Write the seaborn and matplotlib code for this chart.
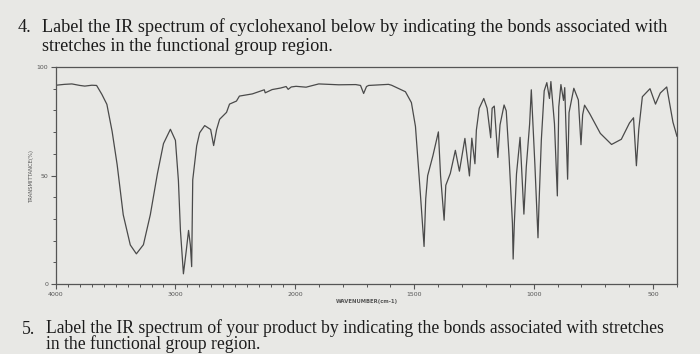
import numpy as np
import pandas as pd
import matplotlib
matplotlib.use("Agg")
import matplotlib.pyplot as plt
import seaborn as sns
from matplotlib.ticker import FixedLocator, NullFormatter

# ---- data ----
wavenumber = [
    4000, 3930, 3867, 3800, 3759, 3700, 3660, 3616, 3574, 3530, 3488, 3437,
    3378, 3327, 3268, 3210, 3151, 3100, 3042, 3000, 2975, 2958, 2933, 2910,
    2890, 2875, 2864, 2855, 2822, 2797, 2755, 2705, 2680, 2655, 2630, 2572,
    2547, 2489, 2464, 2356, 2256, 2248, 2190, 2120, 2073, 2056, 2030, 1995,
    1953, 1900, 1816, 1745, 1725, 1712, 1700, 1691, 1608, 1595, 1537, 1512,
    1495, 1485, 1475, 1459, 1452, 1444, 1422, 1399, 1390, 1375, 1368, 1349,
    1328, 1311, 1288, 1269, 1259, 1246, 1240, 1228, 1209, 1195, 1180, 1174,
    1165, 1150, 1141, 1124, 1115, 1103, 1089, 1086, 1081, 1072, 1057, 1041,
    1031, 1017, 1010, 995, 982, 978, 968, 956, 945, 934, 928, 913, 901, 895,
    886, 875, 870, 858, 852, 832, 813, 802, 795, 787, 765, 721, 674, 633,
    599, 582, 570, 560, 545, 513, 490, 470, 443, 417, 400,
]
transmittance = [
    91.6, 92.0, 92.2, 91.5, 91.2, 91.6, 91.5, 87.4, 82.8, 70.3, 55.0, 31.9,
    18.0, 13.9, 18.1, 32.0, 50.8, 64.7, 71.3, 66.2, 47.7, 24.6, 4.7, 15.0,
    24.7, 18.0, 8.0, 48.0, 63.7, 69.7, 73.0, 71.2, 63.8, 71.2, 75.9, 79.1,
    82.9, 84.3, 86.6, 87.6, 89.5, 88.1, 89.6, 90.3, 91.0, 89.7, 90.8, 91.1,
    90.7, 92.2, 91.8, 91.9, 91.5, 87.8, 91.0, 91.5, 92.0, 91.6, 88.6, 83.6,
    72.6, 57.5, 42.4, 17.3, 39.3, 49.9, 59.1, 70.1, 50.0, 29.4, 45.5, 51.0,
    61.6, 52.0, 67.1, 49.8, 67.2, 55.4, 70.9, 81.0, 85.5, 81.0, 67.4, 81.0,
    82.0, 58.3, 73.3, 82.5, 79.8, 58.5, 27.9, 11.5, 28.0, 50.7, 67.6, 32.2,
    54.0, 73.8, 89.5, 55.0, 21.3, 36.0, 66.4, 89.0, 92.8, 85.5, 93.3, 73.8,
    40.6, 81.6, 91.9, 84.6, 90.5, 48.3, 79.0, 90.2, 84.8, 64.2, 78.0, 82.4,
    78.4, 69.4, 64.3, 66.7, 74.2, 76.6, 54.5, 71.3, 86.3, 90.0, 82.9, 88.0,
    90.8, 74.6, 68.0,
]
x_tick_values = [4000, 3000, 2000, 1500, 1000, 500]
x_tick_labels = ["4000", "3000", "2000", "1500", "1000", "500"]
y_tick_values = [0, 50, 100]
y_tick_labels = ["0", "50", "100"]

question4 = ["Label the IR spectrum of cyclohexanol below by indicating the bonds associated with",
             "stretches in the functional group region."]
question5 = ["Label the IR spectrum of your product by indicating the bonds associated with stretches",
             "in the functional group region."]

df = pd.DataFrame({"wavenumber": wavenumber, "transmittance": transmittance})

# ---- styling ----
sns.set_theme(style="ticks")
bg = "#e8e8e5"
plt.rcParams["font.family"] = ["DejaVu Sans"]

fig = plt.figure(figsize=(7.0, 3.54), dpi=100, facecolor=bg)
W, H = 700, 354
L, R, T, B = 56, 677, 67, 284
ax = fig.add_axes([L / W, 1 - B / H, (R - L) / W, (B - T) / H])
ax.set_facecolor(bg)


def fwd(w):
    # increasing in wavenumber; 2000-400 region drawn at twice the scale
    w = np.asarray(w, dtype=float)
    return np.where(w >= 2000, w - 4000, 2 * (w - 2000) - 2000)


def inv(u):
    u = np.asarray(u, dtype=float)
    return np.where(u >= -2000, u + 4000, (u + 2000) / 2 + 2000)


ax.set_xscale("function", functions=(fwd, inv))

sns.lineplot(data=df, x="wavenumber", y="transmittance", sort=False,
             estimator=None, color="#4a4a4a", linewidth=0.9, ax=ax)

ax.set_xlim(4000, 400)
ax.set_ylim(0, 100)

ax.xaxis.set_major_locator(FixedLocator(x_tick_values))
ax.set_xticklabels(x_tick_labels)
ax.xaxis.set_minor_locator(FixedLocator(list(range(3900, 399, -100))))
ax.xaxis.set_minor_formatter(NullFormatter())
ax.yaxis.set_major_locator(FixedLocator(y_tick_values))
ax.set_yticklabels(y_tick_labels)
ax.yaxis.set_minor_locator(FixedLocator(list(range(10, 100, 10))))

ax.tick_params(axis="both", which="major", length=3.5, width=0.8,
               color="#555555", labelsize=4.5, labelcolor="#555555", pad=2)
ax.tick_params(axis="both", which="minor", length=2, width=0.7, color="#555555")

for s in ax.spines.values():
    s.set_color("#555555")
    s.set_linewidth(0.9)

ax.set_xlabel("WAVENUMBER(cm-1)", fontsize=3.8, color="#555555",
              fontweight="bold", labelpad=2)
ax.set_ylabel("TRANSMITTANCE(%)", fontsize=3.8, color="#555555", labelpad=2)

# ---- question text ----
txt = dict(family="Liberation Serif", color="#1c1c1c", va="center")
fig.text(18 / W, 1 - 27 / H, "4.", fontsize=13.15, **txt)
fig.text(42 / W, 1 - 36.5 / H, "\n".join(question4), fontsize=13.15,
         linespacing=1.04, **txt)
fig.text(22 / W, 1 - 329 / H, "5.", fontsize=12.7, **txt)
fig.text(46 / W, 1 - 336 / H, "\n".join(question5), fontsize=12.7,
         linespacing=0.82, **txt)

fig.savefig("out.png", dpi=100, facecolor=bg)
